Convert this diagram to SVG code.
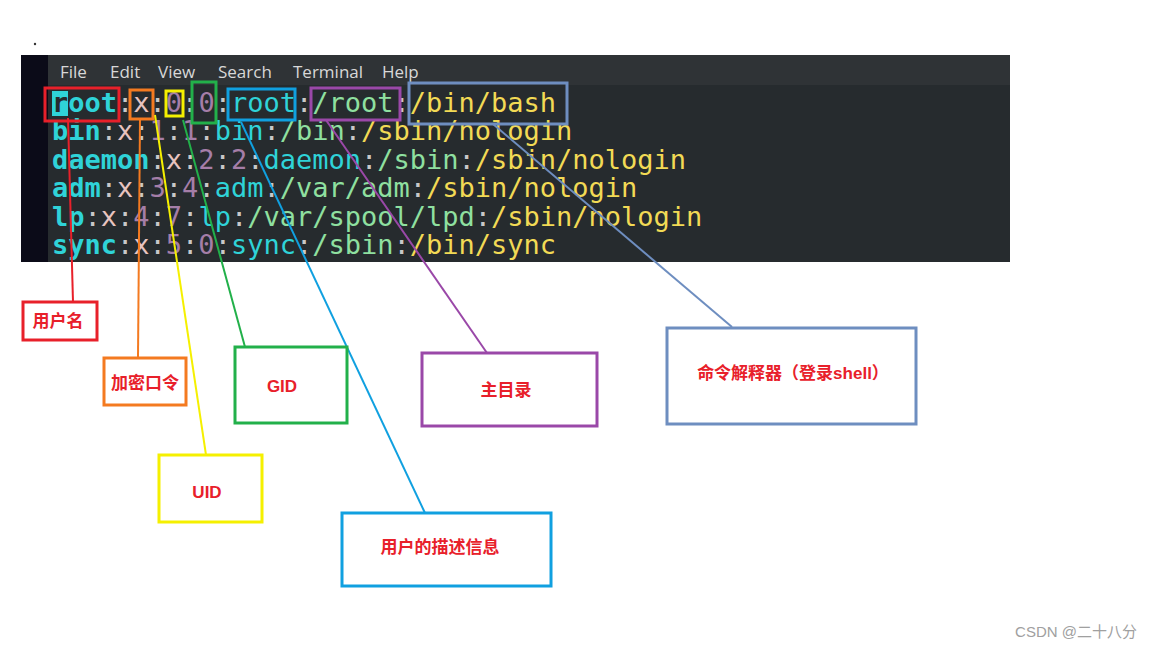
<svg xmlns="http://www.w3.org/2000/svg" width="1152" height="648" viewBox="0 0 1152 648">
<style>
.t{font-family:"DejaVu Sans Mono","Liberation Mono",monospace;font-size:27px}
.m{font-family:"Open Sans","DejaVu Sans",sans-serif;font-size:17px;fill:#d8d8d8}
.u{fill:#2fd3d8;font-weight:bold}.x{fill:#e8c4c0}.n{fill:#a57ea8}.c{fill:#c8c8c8}.h{fill:#8fe0a0}.s{fill:#f2da55}
.lb{font-family:"Liberation Sans","Noto Sans CJK SC",sans-serif;font-size:17px;font-weight:bold;fill:#e8202a;text-anchor:middle}
rect.b{fill:none;stroke-width:3}
line{stroke-width:2}
</style>
<rect width="1152" height="648" fill="#fff"/>
<circle cx="35" cy="44" r="1.2" fill="#333"/>
<g id="terminal">
<rect x="21" y="55" width="989" height="207" fill="#262b2e"/>
<rect x="48" y="55" width="962" height="30" fill="#2f3336"/>
<rect x="21" y="55" width="27" height="207" fill="#0b0b18"/>
<text class="m" y="78"><tspan x="60">File</tspan><tspan x="110">Edit</tspan><tspan x="158">View</tspan><tspan x="218">Search</tspan><tspan x="293">Terminal</tspan><tspan x="382">Help</tspan></text>
<rect x="52" y="91" width="16" height="25" fill="#2fd3d8"/>
<g class="t">
<text x="52" y="112"><tspan style="font-weight:bold;fill:#262b2e">r</tspan><tspan class="u">oot</tspan><tspan class="c">:</tspan><tspan class="x">x</tspan><tspan class="c">:</tspan><tspan class="n">0</tspan><tspan class="c">:</tspan><tspan class="n">0</tspan><tspan class="c">:</tspan><tspan class="u" style="font-weight:normal">root</tspan><tspan class="c">:</tspan><tspan class="h">/root</tspan><tspan class="c">:</tspan><tspan class="s">/bin/bash</tspan></text>
<text x="52" y="140"><tspan class="u">bin</tspan><tspan class="c">:</tspan><tspan class="x">x</tspan><tspan class="c">:</tspan><tspan class="n">1</tspan><tspan class="c">:</tspan><tspan class="n">1</tspan><tspan class="c">:</tspan><tspan class="u" style="font-weight:normal">bin</tspan><tspan class="c">:</tspan><tspan class="h">/bin</tspan><tspan class="c">:</tspan><tspan class="s">/sbin/nologin</tspan></text>
<text x="52" y="169"><tspan class="u">daemon</tspan><tspan class="c">:</tspan><tspan class="x">x</tspan><tspan class="c">:</tspan><tspan class="n">2</tspan><tspan class="c">:</tspan><tspan class="n">2</tspan><tspan class="c">:</tspan><tspan class="u" style="font-weight:normal">daemon</tspan><tspan class="c">:</tspan><tspan class="h">/sbin</tspan><tspan class="c">:</tspan><tspan class="s">/sbin/nologin</tspan></text>
<text x="52" y="197"><tspan class="u">adm</tspan><tspan class="c">:</tspan><tspan class="x">x</tspan><tspan class="c">:</tspan><tspan class="n">3</tspan><tspan class="c">:</tspan><tspan class="n">4</tspan><tspan class="c">:</tspan><tspan class="u" style="font-weight:normal">adm</tspan><tspan class="c">:</tspan><tspan class="h">/var/adm</tspan><tspan class="c">:</tspan><tspan class="s">/sbin/nologin</tspan></text>
<text x="52" y="226"><tspan class="u">lp</tspan><tspan class="c">:</tspan><tspan class="x">x</tspan><tspan class="c">:</tspan><tspan class="n">4</tspan><tspan class="c">:</tspan><tspan class="n">7</tspan><tspan class="c">:</tspan><tspan class="u" style="font-weight:normal">lp</tspan><tspan class="c">:</tspan><tspan class="h">/var/spool/lpd</tspan><tspan class="c">:</tspan><tspan class="s">/sbin/nologin</tspan></text>
<text x="52" y="254"><tspan class="u">sync</tspan><tspan class="c">:</tspan><tspan class="x">x</tspan><tspan class="c">:</tspan><tspan class="n">5</tspan><tspan class="c">:</tspan><tspan class="n">0</tspan><tspan class="c">:</tspan><tspan class="u" style="font-weight:normal">sync</tspan><tspan class="c">:</tspan><tspan class="h">/sbin</tspan><tspan class="c">:</tspan><tspan class="s">/bin/sync</tspan></text>
</g>
</g>
<g id="highlights">
<rect class="b" x="45" y="88" width="74" height="33" stroke="#e8202a"/>
<rect class="b" x="130" y="90" width="23" height="29" stroke="#f47a20"/>
<rect class="b" x="166" y="91" width="17" height="25" stroke="#f5f000"/>
<rect class="b" x="192" y="82" width="24" height="41" stroke="#22b04a"/>
<rect class="b" x="228" y="89" width="67" height="31" stroke="#10a0e0"/>
<rect class="b" x="311" y="88" width="89" height="32" stroke="#9a48a8"/>
<rect class="b" x="409" y="83" width="158" height="41" stroke="#6e8ec0"/>
</g>
<g id="connectors">
<line x1="68" y1="118" x2="73" y2="302" stroke="#e8202a"/>
<line x1="140" y1="118" x2="138" y2="358" stroke="#f47a20"/>
<line x1="155" y1="115" x2="206" y2="455" stroke="#f5f000"/>
<line x1="183" y1="120" x2="245" y2="347" stroke="#22b04a"/>
<line x1="241" y1="122" x2="425" y2="513" stroke="#10a0e0"/>
<line x1="326" y1="120" x2="487" y2="353" stroke="#9a48a8"/>
<line x1="493" y1="124" x2="732" y2="327" stroke="#6e8ec0"/>
</g>
<g id="n-user"><rect class="b" x="23" y="302" width="74" height="38" stroke="#e8202a"/><text class="lb" x="58" y="327">用户名</text></g>
<g id="n-pass"><rect class="b" x="104" y="358" width="82" height="47" stroke="#f47a20"/><text class="lb" x="145" y="389">加密口令</text></g>
<g id="n-gid"><rect class="b" x="235" y="347" width="112" height="76" stroke="#22b04a"/><text class="lb" x="282" y="392">GID</text></g>
<g id="n-uid"><rect class="b" x="159" y="455" width="103" height="67" stroke="#f5f000"/><text class="lb" x="207" y="498">UID</text></g>
<g id="n-desc"><rect class="b" x="342" y="513" width="209" height="73" stroke="#10a0e0"/><text class="lb" x="440" y="553">用户的描述信息</text></g>
<g id="n-home"><rect class="b" x="422" y="353" width="175" height="73" stroke="#9a48a8"/><text class="lb" x="506" y="396">主目录</text></g>
<g id="n-shell"><rect class="b" x="667" y="328" width="249" height="96" stroke="#6e8ec0"/><text class="lb" x="793" y="379">命令解释器（登录shell）</text></g>
<text x="1137" y="637" text-anchor="end" font-family="Liberation Sans,Noto Sans CJK SC,sans-serif" font-size="15" fill="#a0a0a0">CSDN @二十八分</text>
</svg>
